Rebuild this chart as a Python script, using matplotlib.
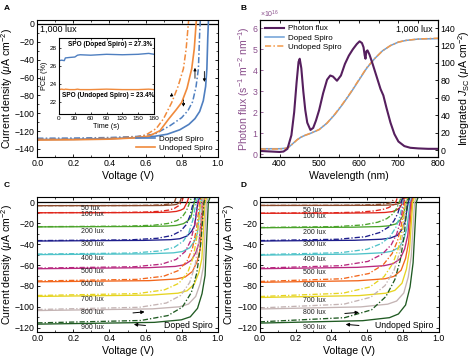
import matplotlib
matplotlib.use('Agg')
import matplotlib.pyplot as plt
from matplotlib.ticker import MultipleLocator

plt.rcParams['font.family'] = ['Liberation Sans', 'DejaVu Sans']
plt.rcParams['mathtext.fontset'] = 'custom'
plt.rcParams['mathtext.rm'] = 'Liberation Sans'
plt.rcParams['mathtext.it'] = 'Liberation Sans:italic'
plt.rcParams['xtick.direction'] = 'in'
plt.rcParams['ytick.direction'] = 'in'
plt.rcParams['xtick.labelsize'] = 6.3
plt.rcParams['ytick.labelsize'] = 6.3
plt.rcParams['axes.linewidth'] = 0.8

# ---------------- panel A data (1,000 lux) ----------------
a_doped_rev_v = [0, 0.2, 0.4, 0.55, 0.65, 0.72, 0.79, 0.84, 0.874, 0.9, 0.92, 0.933, 0.94, 0.945, 0.95]
a_doped_rev_j = [-129.5, -129.2, -128.5, -127.3, -125.8, -123.5, -118.5, -112.5, -106, -98, -86, -70, -50, -15, 10]
a_doped_fwd_v = [0, 0.2, 0.4, 0.55, 0.65, 0.735, 0.8, 0.835, 0.861, 0.88, 0.893, 0.9, 0.905]
a_doped_fwd_j = [-128, -127.8, -127.2, -126, -123.5, -114, -105, -97, -87, -70, -50, -10, 10]
a_undoped_rev_v = [0, 0.2, 0.4, 0.55, 0.62, 0.68, 0.726, 0.77, 0.8, 0.83, 0.856, 0.87, 0.88, 0.885]
a_undoped_rev_j = [-130, -129.7, -129, -127.5, -125.5, -119.5, -107, -96, -88, -72, -50, -28, 0, 10]
a_undoped_fwd_v = [0, 0.2, 0.4, 0.55, 0.6, 0.66, 0.7, 0.745, 0.78, 0.81, 0.825, 0.837, 0.842]
a_undoped_fwd_j = [-129, -128.8, -128, -126.5, -124.5, -117, -106, -88, -70, -50, -28, 0, 10]

spo_t = [0, 5, 10, 12, 20, 30, 35, 40, 60, 90, 120, 150, 170, 180]
spo_doped = [26.6, 26.65, 26.6, 26.9, 26.95, 27.0, 27.2, 27.25, 27.2, 27.3, 27.25, 27.3, 27.4, 27.3]
spo_undoped = [23.4, 23.45, 23.4, 23.45, 23.4, 23.4, 23.45, 23.4, 23.4, 23.45, 23.4, 23.4, 23.45, 23.4]

# ---------------- panel B data ----------------
wl = [350, 380, 400, 410, 420, 430, 437, 443, 448, 451, 455, 460, 465, 470, 478, 485, 492, 500,
      510, 520, 528, 535, 545, 555, 565, 575, 585, 595, 602, 608, 612, 615, 617, 619, 622, 627,
      635, 645, 655, 662, 670, 680, 690, 700, 715, 730, 750, 775, 800]
flux = [0.15, 0.12, 0.1, 0.12, 0.25, 0.9, 2.0, 3.4, 4.4, 4.55, 4.1, 3.0, 2.1, 1.5, 1.15, 1.25, 1.6, 2.1,
        2.9, 3.55, 3.75, 3.7, 3.5, 3.75, 4.3, 4.7, 5.0, 5.25, 5.38, 5.3, 5.1, 4.7, 4.55, 4.9, 4.95, 4.75,
        4.3, 3.7, 3.1, 2.8, 2.2, 1.5, 0.95, 0.6, 0.38, 0.3, 0.27, 0.25, 0.25]
wl_j = [350, 400, 415, 425, 435, 445, 455, 465, 480, 500, 520, 540, 560, 580, 600, 620, 640, 660,
        680, 700, 720, 750, 800]
jsc_doped = [1.5, 1.5, 2, 4, 8, 12, 15, 17, 19.5, 23.5, 31, 41, 53, 66, 80, 94, 105, 114,
             120, 124, 126, 127.5, 128]
jsc_undoped = [1.2, 1.2, 1.8, 3.8, 7.8, 12, 15, 17, 19.5, 23.5, 31, 41.5, 53.5, 66.5, 80.5, 94.5, 105, 114,
               120, 124, 126, 127.5, 128.5]

# ---------------- panels C / D data ----------------
lux = [50, 100, 200, 300, 400, 500, 600, 700, 800, 900]
lux_colors = ['#8b4a2b', '#e0251b', '#4aa32a', '#1e1e8c', '#4fc3c9',
              '#b8287f', '#f2661c', '#e6d421', '#c4b4b4', '#1f5a22']

c_rev_v = [
    [0, 0.49, 0.64, 0.69, 0.73, 0.755, 0.772, 0.79, 0.82],
    [0, 0.53, 0.68, 0.73, 0.77, 0.795, 0.812, 0.83, 0.86],
    [0, 0.57, 0.72, 0.77, 0.81, 0.835, 0.852, 0.87, 0.90],
    [0, 0.59, 0.74, 0.79, 0.83, 0.855, 0.872, 0.89, 0.92],
    [0, 0.605, 0.755, 0.805, 0.845, 0.87, 0.887, 0.905, 0.935],
    [0, 0.615, 0.765, 0.815, 0.855, 0.88, 0.897, 0.915, 0.945],
    [0, 0.62, 0.77, 0.82, 0.86, 0.885, 0.902, 0.92, 0.95],
    [0, 0.63, 0.78, 0.83, 0.87, 0.895, 0.912, 0.93, 0.96],
    [0, 0.638, 0.788, 0.838, 0.878, 0.903, 0.92, 0.938, 0.968],
    [0, 0.648, 0.798, 0.848, 0.888, 0.913, 0.93, 0.948, 0.978],
]
c_rev_j = [
    [-3.2, -3.15, -3.09, -3.01, -2.78, -2.4, -1.92, 0, 15],
    [-10, -9.85, -9.65, -9.4, -8.7, -7.5, -6, 0, 15],
    [-23.5, -23.1, -22.7, -22.1, -20.4, -17.6, -14.1, 0, 15],
    [-37, -36.4, -35.7, -34.8, -32.2, -27.8, -22.2, 0, 15],
    [-50, -49.3, -48.3, -47, -43.5, -37.5, -30, 0, 15],
    [-63.5, -62.5, -61.3, -59.7, -55.2, -47.6, -38.1, 0, 15],
    [-76, -74.9, -73.3, -71.4, -66.1, -57, -45.6, 0, 15],
    [-90, -88.7, -86.9, -84.6, -78.3, -67.5, -54, 0, 15],
    [-103.5, -101.9, -99.9, -97.3, -90, -77.6, -62.1, 0, 15],
    [-116.5, -114.8, -112.4, -109.5, -101.4, -87.4, -69.9, 0, 15],
]
c_fwd_v = [
    [0, 0.41, 0.56, 0.64, 0.69, 0.72, 0.742, 0.76, 0.79],
    [0, 0.45, 0.60, 0.68, 0.73, 0.76, 0.782, 0.80, 0.83],
    [0, 0.495, 0.645, 0.725, 0.775, 0.805, 0.827, 0.845, 0.875],
    [0, 0.515, 0.665, 0.745, 0.795, 0.825, 0.847, 0.865, 0.895],
    [0, 0.53, 0.68, 0.76, 0.81, 0.84, 0.862, 0.88, 0.91],
    [0, 0.54, 0.69, 0.77, 0.82, 0.85, 0.872, 0.89, 0.92],
    [0, 0.55, 0.70, 0.78, 0.83, 0.86, 0.882, 0.90, 0.93],
    [0, 0.555, 0.705, 0.785, 0.835, 0.865, 0.887, 0.905, 0.935],
    [0, 0.565, 0.715, 0.795, 0.845, 0.875, 0.897, 0.915, 0.945],
    [0, 0.574, 0.724, 0.804, 0.854, 0.884, 0.906, 0.924, 0.954],
]
c_fwd_j = [
    [-3.17, -3.1, -2.98, -2.75, -2.37, -1.86, -1.09, 0, 15],
    [-9.9, -9.7, -9.3, -8.6, -7.4, -5.8, -3.4, 0, 15],
    [-23.3, -22.8, -21.9, -20.2, -17.4, -13.6, -8, 0, 15],
    [-36.6, -35.9, -34.4, -31.8, -27.4, -21.5, -12.6, 0, 15],
    [-49.5, -48.5, -46.5, -43, -37, -29, -17, 0, 15],
    [-62.9, -61.6, -59.1, -54.6, -47, -36.8, -21.6, 0, 15],
    [-75.2, -73.7, -70.7, -65.4, -56.2, -44.1, -25.8, 0, 15],
    [-89.1, -87.3, -83.7, -77.4, -66.6, -52.2, -30.6, 0, 15],
    [-102.5, -100.4, -96.3, -89, -76.6, -60, -35.2, 0, 15],
    [-115.3, -113, -108.3, -100.2, -86.2, -67.6, -39.6, 0, 15],
]
d_rev_v = [
    [0, 0.49, 0.64, 0.69, 0.73, 0.755, 0.772, 0.79, 0.82],
    [0, 0.50, 0.65, 0.70, 0.74, 0.765, 0.782, 0.80, 0.83],
    [0, 0.52, 0.67, 0.72, 0.76, 0.785, 0.802, 0.82, 0.85],
    [0, 0.53, 0.68, 0.73, 0.77, 0.795, 0.812, 0.83, 0.86],
    [0, 0.54, 0.69, 0.74, 0.78, 0.805, 0.822, 0.84, 0.87],
    [0, 0.545, 0.695, 0.745, 0.785, 0.81, 0.827, 0.845, 0.875],
    [0, 0.55, 0.70, 0.75, 0.79, 0.815, 0.832, 0.85, 0.88],
    [0, 0.555, 0.705, 0.755, 0.795, 0.82, 0.837, 0.855, 0.885],
    [0, 0.565, 0.715, 0.765, 0.805, 0.83, 0.847, 0.865, 0.895],
    [0, 0.575, 0.725, 0.775, 0.815, 0.84, 0.857, 0.875, 0.905],
]
d_rev_j = [
    [-3, -2.94, -2.87, -2.78, -2.55, -2.1, -1.5, 0, 15],
    [-10.5, -10.3, -10, -9.7, -8.9, -7.35, -5.25, 0, 15],
    [-24.3, -23.8, -23.2, -22.5, -20.7, -17, -12.2, 0, 15],
    [-37, -36.3, -35.3, -34.2, -31.5, -25.9, -18.5, 0, 15],
    [-50.5, -49.5, -48.2, -46.7, -42.9, -35.4, -25.3, 0, 15],
    [-63.5, -62.2, -60.6, -58.7, -54, -44.5, -31.8, 0, 15],
    [-76.5, -75, -73.1, -70.8, -65, -53.6, -38.3, 0, 15],
    [-91, -89.2, -86.9, -84.2, -77.4, -63.7, -45.5, 0, 15],
    [-102, -100, -97.4, -94.4, -86.7, -71.4, -51, 0, 15],
    [-115.5, -113.2, -110.3, -106.8, -98.2, -80.9, -57.8, 0, 15],
]
d_fwd_v = [
    [0, 0.39, 0.54, 0.62, 0.67, 0.70, 0.722, 0.74, 0.77],
    [0, 0.41, 0.56, 0.64, 0.69, 0.72, 0.742, 0.76, 0.79],
    [0, 0.43, 0.58, 0.66, 0.71, 0.74, 0.762, 0.78, 0.81],
    [0, 0.44, 0.59, 0.67, 0.72, 0.75, 0.772, 0.79, 0.82],
    [0, 0.45, 0.60, 0.68, 0.73, 0.76, 0.782, 0.80, 0.83],
    [0, 0.455, 0.605, 0.685, 0.735, 0.765, 0.787, 0.805, 0.835],
    [0, 0.46, 0.61, 0.69, 0.74, 0.77, 0.792, 0.81, 0.84],
    [0, 0.465, 0.615, 0.695, 0.745, 0.775, 0.797, 0.815, 0.845],
    [0, 0.47, 0.62, 0.70, 0.75, 0.78, 0.802, 0.82, 0.85],
    [0, 0.475, 0.625, 0.705, 0.755, 0.785, 0.807, 0.825, 0.855],
]
d_fwd_j = [
    [-2.97, -2.87, -2.67, -2.34, -1.92, -1.44, -0.84, 0, 15],
    [-10.4, -10, -9.35, -8.2, -6.7, -5.05, -2.94, 0, 15],
    [-24.1, -23.2, -21.6, -19, -15.6, -11.7, -6.8, 0, 15],
    [-36.6, -35.3, -32.9, -28.9, -23.7, -17.8, -10.4, 0, 15],
    [-50, -48.2, -44.9, -39.4, -32.3, -24.2, -14.1, 0, 15],
    [-62.9, -60.6, -56.5, -49.5, -40.6, -30.5, -17.8, 0, 15],
    [-75.7, -73.1, -68.1, -59.7, -49, -36.7, -21.4, 0, 15],
    [-90.1, -86.9, -81, -71, -58.2, -43.7, -25.5, 0, 15],
    [-101, -97.4, -90.8, -79.6, -65.3, -49, -28.6, 0, 15],
    [-114.3, -110.3, -102.8, -90.1, -73.9, -55.4, -32.3, 0, 15],
]
c_label_j = [-5.7, -11.9, -27.5, -40, -53.6, -66, -78.8, -92.5, -105.6, -119.3]
d_label_j = [-7.7, -14, -29, -40, -54.5, -66.7, -80, -93.8, -105.6, -119.3]

BLUE = '#4f7fc0'
ORANGE = '#f08a3c'
PURPLE = '#561f5e'
PURPLE_TXT = '#8a4f8c'
DASHDOT = (0, (4, 1.5, 1, 1.5))
ylab = r'Current density ($\mu$A cm$^{-2}$)'
LABEL_FS = 7.6

fig = plt.figure(figsize=(4.74, 3.62), dpi=100)


def style(ax):
    ax.tick_params(which='both', top=True, right=True)
    ax.tick_params(which='major', length=2.5, width=0.6, pad=1.8)
    ax.tick_params(which='minor', length=1.5, width=0.5)


# ---------------- A ----------------
axA = fig.add_axes([0.0787, 0.5663, 0.3806, 0.3785])
axA.axhline(0, color='black', lw=0.9)
axA.plot(a_doped_fwd_v, a_doped_fwd_j, color=BLUE, lw=1.1, ls=DASHDOT)
axA.plot(a_undoped_fwd_v, a_undoped_fwd_j, color=ORANGE, lw=1.1, ls=DASHDOT)
axA.plot(a_doped_rev_v, a_doped_rev_j, color=BLUE, lw=1.2, label='Doped Spiro')
axA.plot(a_undoped_rev_v, a_undoped_rev_j, color=ORANGE, lw=1.2, label='Undoped Spiro')
axA.set_xlim(0, 1)
axA.set_ylim(-149, 4.5)
axA.set_yticks(range(-140, 1, 20))
axA.xaxis.set_major_locator(MultipleLocator(0.2))
axA.xaxis.set_minor_locator(MultipleLocator(0.1))
axA.yaxis.set_minor_locator(MultipleLocator(10))
style(axA)
axA.set_xlabel('Voltage (V)', fontsize=LABEL_FS, labelpad=2)
axA.set_ylabel(ylab, fontsize=LABEL_FS, labelpad=0)
axA.text(0.015, 0.93, '1,000 lux', transform=axA.transAxes, fontsize=6.5, va='center')
axA.legend(loc='lower right', frameon=False, fontsize=5.8, handlelength=2.4,
           borderaxespad=0.2, labelspacing=0.2, handletextpad=0.5)
arrow_kw = dict(arrowstyle='-|>', color='black', lw=0.6, mutation_scale=4)
axA.annotate('', xy=(0.745, -74), xytext=(0.745, -84), arrowprops=dict(arrow_kw, ls=(0, (1.5, 1))))
axA.annotate('', xy=(0.81, -96), xytext=(0.81, -82), arrowprops=dict(arrow_kw, ls=(0, (1.5, 1))))
axA.annotate('', xy=(0.874, -46), xytext=(0.874, -64), arrowprops=arrow_kw)
axA.annotate('', xy=(0.926, -68), xytext=(0.926, -50), arrowprops=arrow_kw)

axI = fig.add_axes([0.1245, 0.685, 0.2004, 0.21])
axI.plot(spo_t, spo_doped, color=BLUE, lw=1.0)
axI.plot(spo_t, spo_undoped, color=ORANGE, lw=1.0)
axI.set_xlim(0, 180)
axI.set_ylim(20.7, 29.1)
axI.set_xticks(range(0, 181, 30))
axI.set_yticks([22, 24, 26, 28])
axI.tick_params(labelsize=4.6, length=1.5, width=0.5, pad=1.5, top=True, right=True)
axI.set_xlabel('Time (s)', fontsize=5.2, labelpad=1)
axI.set_ylabel('PCE (%)', fontsize=5.2, labelpad=1)
axI.text(97, 28.35, 'SPO (Doped Spiro) = 27.3%', fontsize=4.7, weight='bold', ha='center', va='center')
axI.text(93, 22.75, 'SPO (Undoped Spiro) = 23.4%', fontsize=4.7, weight='bold', ha='center', va='center')

# ---------------- B ----------------
axB = fig.add_axes([0.5479, 0.5663, 0.3762, 0.3785])
axB2 = axB.twinx()
axB2.plot(wl_j, jsc_doped, color='#6d9fd6', lw=1.1, label='Doped Spiro')
axB2.plot(wl_j, jsc_undoped, color='#f39a4a', lw=1.1, ls=DASHDOT, label='Undoped Spiro')
lf, = axB.plot(wl, flux, color=PURPLE, lw=1.5, label='Photon flux')
axB.set_zorder(axB2.get_zorder() + 1)
axB.patch.set_visible(False)
axB.set_xlim(350, 800)
axB.set_ylim(-0.14, 6.4)
axB2.set_ylim(-8, 149.4)
axB2.set_yticks(range(0, 141, 20))
axB.set_yticks(range(0, 7))
axB.xaxis.set_major_locator(MultipleLocator(100))
axB.xaxis.set_minor_locator(MultipleLocator(50))
axB.tick_params(which='both', top=True, pad=1.8)
axB.tick_params(axis='y', colors=PURPLE_TXT, length=2.5, width=0.6)
axB.tick_params(axis='x', length=2.5, width=0.6)
axB2.tick_params(axis='y', length=2.5, width=0.6, pad=1.8)
axB.set_xlabel('Wavelength (nm)', fontsize=LABEL_FS, labelpad=2)
axB.set_ylabel(r'Photon flux (s$^{-1}$ m$^{-2}$ nm$^{-1}$)', fontsize=LABEL_FS, color=PURPLE_TXT, labelpad=0)
axB2.set_ylabel(r'Integrated $J_{\rm SC}$ ($\mu$A cm$^{-2}$)', fontsize=LABEL_FS, labelpad=1)
axB.text(0.0, 1.015, r'$\times$10$^{16}$', transform=axB.transAxes, fontsize=5, color=PURPLE_TXT)
axB.text(0.97, 0.93, '1,000 lux', transform=axB.transAxes, fontsize=6.5, ha='right', va='center')
h2, l2 = axB2.get_legend_handles_labels()
axB.legend([lf] + h2, ['Photon flux'] + l2, loc='upper left', frameon=False, fontsize=5.8,
           handlelength=2.4, borderaxespad=0.2, labelspacing=0.2, handletextpad=0.5)


# ---------------- C / D ----------------
def jv_panel(rect, rev_v, rev_j, fwd_v, fwd_j, label_j, name, arrows):
    ax = fig.add_axes(rect)
    ax.axhline(0, color='black', lw=0.9)
    for i in range(len(lux)):
        ax.plot(fwd_v[i], fwd_j[i], color=lux_colors[i], lw=0.95, ls=DASHDOT)
        ax.plot(rev_v[i], rev_j[i], color=lux_colors[i], lw=0.95)
        ax.text(0.24, label_j[i], '%d lux' % lux[i], fontsize=5, va='center', ha='left', color='#222222')
    ax.set_xlim(0, 1)
    ax.set_ylim(-124, 5.4)
    ax.set_yticks(range(-120, 1, 20))
    ax.xaxis.set_major_locator(MultipleLocator(0.2))
    ax.xaxis.set_minor_locator(MultipleLocator(0.1))
    ax.yaxis.set_minor_locator(MultipleLocator(10))
    style(ax)
    ax.set_xlabel('Voltage (V)', fontsize=LABEL_FS, labelpad=2)
    ax.set_ylabel(ylab, fontsize=LABEL_FS, labelpad=0)
    ax.text(0.97, 0.05, name, transform=ax.transAxes, fontsize=6.3, ha='right', va='center')
    (x0, x1, y0), (x2, x3, y1) = arrows
    ax.annotate('', xy=(x1, y0), xytext=(x0, y0 - 1.5), arrowprops=dict(arrowstyle='-|>', color='black', lw=0.7, mutation_scale=5))
    ax.annotate('', xy=(x3, y1), xytext=(x2, y1 - 1.5), arrowprops=dict(arrowstyle='-|>', color='black', lw=0.7, mutation_scale=5))
    return ax


axC = jv_panel([0.0787, 0.0829, 0.3806, 0.3738], c_rev_v, c_rev_j, c_fwd_v, c_fwd_j, c_label_j,
               'Doped Spiro', ((0.515, 0.61, -104.5), (0.615, 0.52, -116.5)))
axD = jv_panel([0.5479, 0.0829, 0.3776, 0.3738], d_rev_v, d_rev_j, d_fwd_v, d_fwd_j, d_label_j,
               'Undoped Spiro', ((0.46, 0.57, -105), (0.57, 0.465, -116.5)))

for letter, x, y in [('A', 0.008, 0.985), ('B', 0.508, 0.985), ('C', 0.008, 0.497), ('D', 0.508, 0.497)]:
    fig.text(x, y, letter, fontsize=6, weight='bold', va='top')

fig.savefig('out.png', dpi=100)
